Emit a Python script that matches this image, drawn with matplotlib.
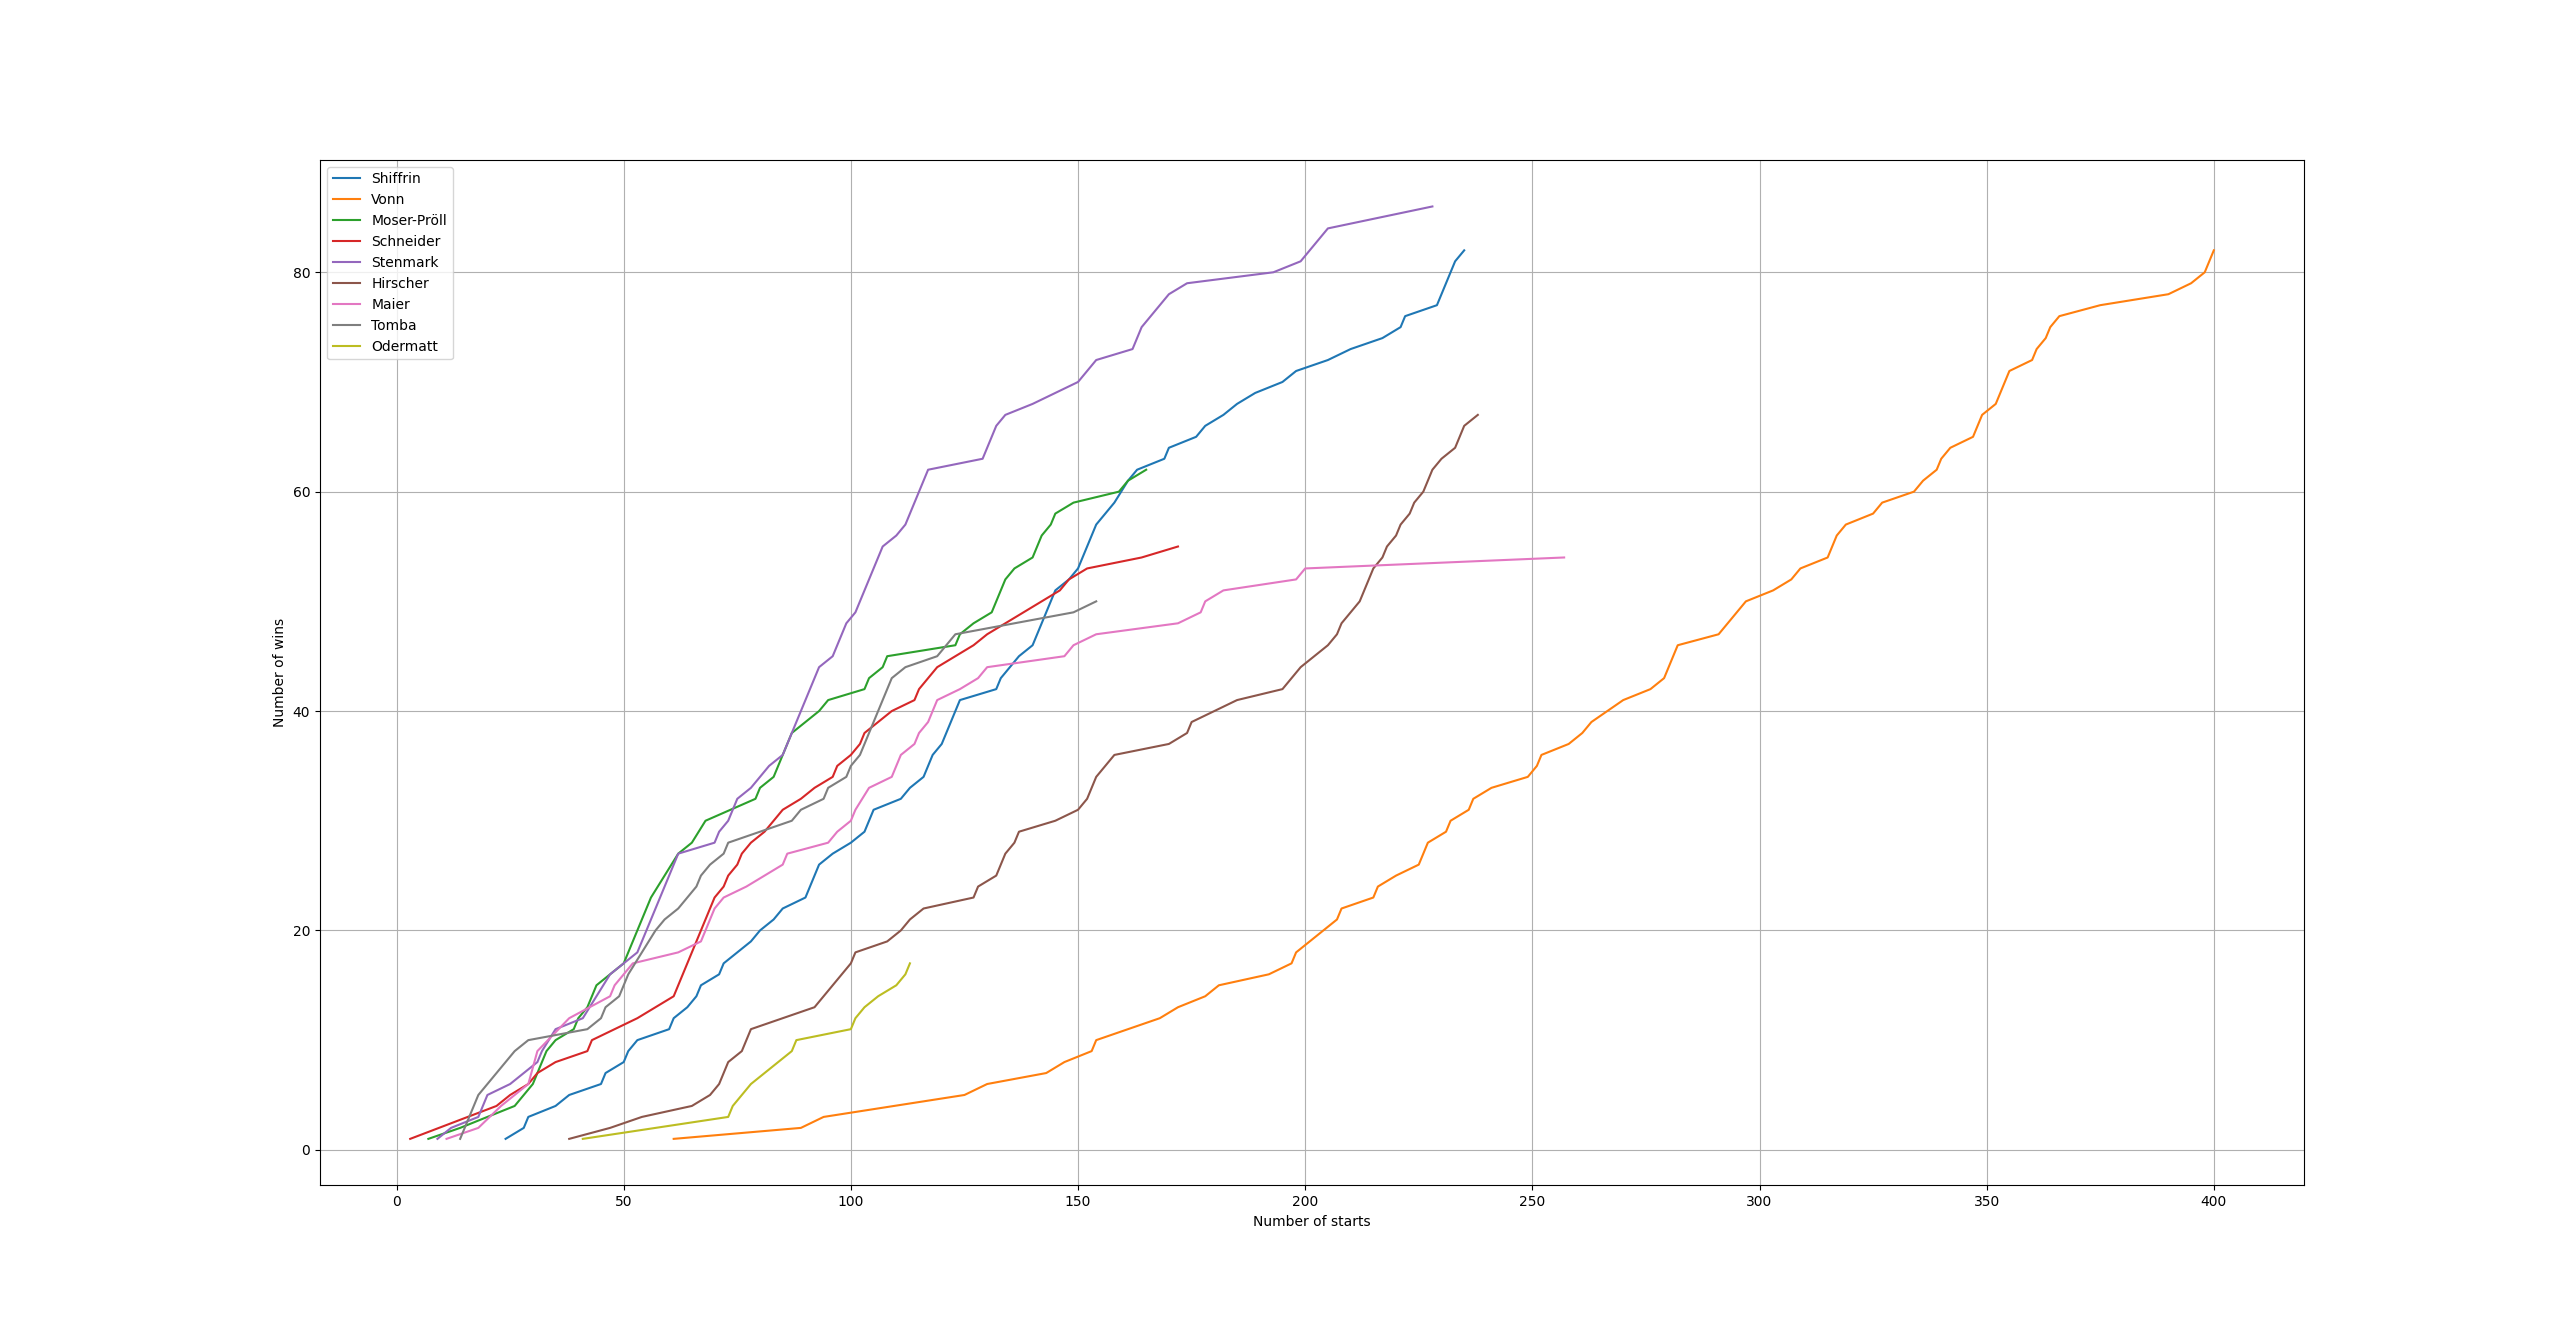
import matplotlib
matplotlib.use("Agg")
import matplotlib.pyplot as plt

# Victorias acumuladas frente a numero de salidas (vertices)

shiffrin_starts = [24, 28, 29, 35, 38, 45, 46, 50, 51, 53, 60, 61, 64, 66, 67, 71, 72, 78, 80, 83,
                   85, 90, 93, 96, 100, 103, 105, 111, 113, 116, 118, 120, 124, 132, 133, 137, 140,
                   144, 145, 148, 150, 154, 158, 161, 163, 169, 170, 176, 178, 182, 185, 189, 195,
                   198, 205, 210, 217, 221, 222, 229, 233, 235]
shiffrin_wins = [1, 2, 3, 4, 5, 6, 7, 8, 9, 10, 11, 12, 13, 14, 15, 16, 17, 19, 20, 21,
                 22, 23, 26, 27, 28, 29, 31, 32, 33, 34, 36, 37, 41, 42, 43, 45, 46,
                 50, 51, 52, 53, 57, 59, 61, 62, 63, 64, 65, 66, 67, 68, 69, 70,
                 71, 72, 73, 74, 75, 76, 77, 81, 82]

vonn_starts = [61, 89, 94, 125, 130, 143, 147, 153, 154, 168, 172, 178, 181, 192, 197, 198, 207,
               208, 215, 216, 220, 225, 227, 231, 232, 236, 237, 241, 249, 251, 252, 258, 261,
               263, 270, 276, 279, 282, 291, 293, 295, 297, 303, 307, 309, 315, 317, 319, 325,
               327, 334, 336, 339, 340, 342, 347, 349, 352, 355, 360, 361, 363, 364, 366, 375,
               390, 395, 398, 400]
vonn_wins = [1, 2, 3, 5, 6, 7, 8, 9, 10, 12, 13, 14, 15, 16, 17, 18, 21,
             22, 23, 24, 25, 26, 28, 29, 30, 31, 32, 33, 34, 35, 36, 37, 38,
             39, 41, 42, 43, 46, 47, 48, 49, 50, 51, 52, 53, 54, 56, 57, 58,
             59, 60, 61, 62, 63, 64, 65, 67, 68, 71, 72, 73, 74, 75, 76, 77,
             78, 79, 80, 82]

moser_starts = [7, 14, 20, 26, 30, 33, 35, 39, 40, 42, 44, 47, 50, 56, 62, 65, 68, 79, 80, 83,
                87, 93, 95, 103, 104, 107, 108, 123, 124, 127, 131, 134, 136, 140, 142, 144,
                145, 149, 159, 161, 165]
moser_wins = [1, 2, 3, 4, 6, 9, 10, 11, 12, 13, 15, 16, 17, 23, 27, 28, 30, 32, 33, 34,
              38, 40, 41, 42, 43, 44, 45, 46, 47, 48, 49, 52, 53, 54, 56, 57,
              58, 59, 60, 61, 62]

schneider_starts = [3, 22, 25, 29, 31, 35, 42, 43, 53, 61, 70, 72, 73, 75, 76, 78, 81, 85, 89,
                    92, 96, 97, 100, 102, 103, 109, 114, 115, 119, 123, 127, 130, 134, 138, 146,
                    148, 152, 164, 172]
schneider_wins = [1, 4, 5, 6, 7, 8, 9, 10, 12, 14, 23, 24, 25, 26, 27, 28, 29, 31, 32,
                  33, 34, 35, 36, 37, 38, 40, 41, 42, 44, 45, 46, 47, 48, 49, 51,
                  52, 53, 54, 55]

stenmark_starts = [9, 12, 18, 20, 25, 31, 32, 35, 41, 47, 53, 62, 70, 71, 73, 75, 78, 82, 85,
                   89, 93, 96, 99, 101, 102, 107, 110, 112, 117, 129, 132, 134, 140, 150, 154,
                   162, 164, 170, 174, 193, 199, 205, 228]
stenmark_wins = [1, 2, 3, 5, 6, 8, 9, 11, 12, 16, 18, 27, 28, 29, 30, 32, 33, 35, 36,
                 40, 44, 45, 48, 49, 50, 55, 56, 57, 62, 63, 66, 67, 68, 70, 72,
                 73, 75, 78, 79, 80, 81, 84, 86]

hirscher_starts = [38, 47, 54, 65, 69, 71, 73, 76, 78, 92, 100, 101, 108, 111, 113, 116, 127,
                   128, 132, 134, 136, 137, 145, 150, 152, 154, 156, 158, 170, 174, 175, 185,
                   195, 199, 205, 207, 208, 212, 215, 217, 218, 220, 221, 223, 224, 226, 228,
                   230, 233, 235, 238]
hirscher_wins = [1, 2, 3, 4, 5, 6, 8, 9, 11, 13, 17, 18, 19, 20, 21, 22, 23,
                 24, 25, 27, 28, 29, 30, 31, 32, 34, 35, 36, 37, 38, 39, 41,
                 42, 44, 46, 47, 48, 50, 53, 54, 55, 56, 57, 58, 59, 60, 62,
                 63, 64, 66, 67]

maier_starts = [11, 18, 23, 26, 29, 31, 38, 47, 48, 52, 62, 67, 70, 72, 77, 85, 86, 95, 97, 100,
                101, 104, 109, 111, 114, 115, 117, 119, 124, 128, 130, 147, 149, 154, 172, 177,
                178, 182, 198, 200, 257]
maier_wins = [1, 2, 4, 5, 6, 9, 12, 14, 15, 17, 18, 19, 22, 23, 24, 26, 27, 28, 29, 30,
              31, 33, 34, 36, 37, 38, 39, 41, 42, 43, 44, 45, 46, 47, 48, 49,
              50, 51, 52, 53, 54]

tomba_starts = [14, 18, 20, 22, 24, 26, 29, 42, 45, 46, 49, 51, 54, 57, 59, 62, 66, 67, 69, 72,
                73, 87, 89, 94, 95, 99, 100, 102, 109, 112, 119, 123, 149, 154]
tomba_wins = [1, 5, 6, 7, 8, 9, 10, 11, 12, 13, 14, 16, 18, 20, 21, 22, 24, 25, 26, 27,
              28, 30, 31, 32, 33, 34, 35, 36, 43, 44, 45, 47, 49, 50]

odermatt_starts = [41, 73, 74, 78, 87, 88, 100, 101, 103, 106, 110, 112, 113]
odermatt_wins = [1, 3, 4, 6, 9, 10, 11, 12, 13, 14, 15, 16, 17]

fig, ax = plt.subplots(figsize=(25.6, 13.32), dpi=100)

ax.plot(shiffrin_starts, shiffrin_wins, label='Shiffrin')
ax.plot(vonn_starts, vonn_wins, label='Vonn')
ax.plot(moser_starts, moser_wins, label='Moser-Pröll')
ax.plot(schneider_starts, schneider_wins, label='Schneider')
ax.plot(stenmark_starts, stenmark_wins, label='Stenmark')
ax.plot(hirscher_starts, hirscher_wins, label='Hirscher')
ax.plot(maier_starts, maier_wins, label='Maier')
ax.plot(tomba_starts, tomba_wins, label='Tomba')
ax.plot(odermatt_starts, odermatt_wins, label='Odermatt')

ax.set_xlabel('Number of starts')
ax.set_ylabel('Number of wins')
ax.grid(True)
ax.legend(loc='upper left')

plt.savefig('out.png', dpi=100)
